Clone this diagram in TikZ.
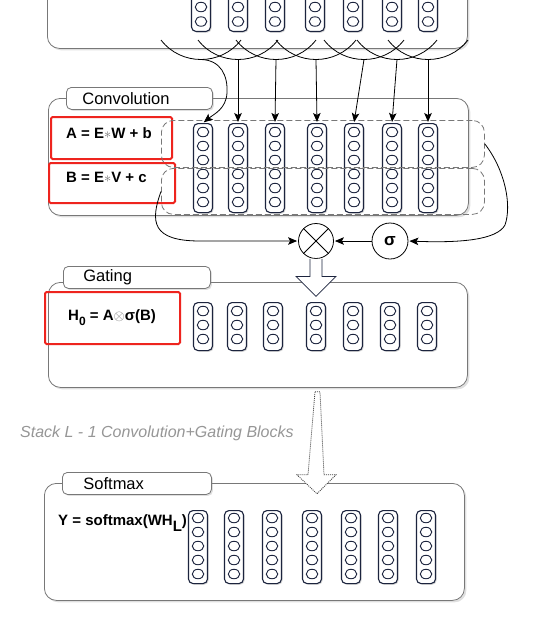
\documentclass[tikz,border=0pt]{standalone}
\usepackage{fontspec}
\setmainfont{Liberation Sans}
\usepackage{tikz}
\usetikzlibrary{arrows.meta, positioning, shadows, shapes.geometric, calc}

\definecolor{frame}{RGB}{120,120,120}
\definecolor{navy}{RGB}{28,36,62}
\definecolor{eqred}{RGB}{238,36,30}
\definecolor{note}{RGB}{150,150,150}

\begin{document}
\begin{tikzpicture}[
  x=1pt, y=-1pt,
  block/.style={draw=frame, fill=white, rounded corners=12pt, line width=0.8pt, anchor=north west,
    drop shadow={shadow xshift=2pt, shadow yshift=-2pt, opacity=0.25}},
  tab/.style={draw=frame, fill=white, rounded corners=5pt, line width=0.8pt, anchor=north west,
    minimum height=22pt, inner xsep=0pt, text width=#1, align=left,
    font=\fontsize{16.5}{18}\selectfont,
    drop shadow={shadow xshift=1.5pt, shadow yshift=-1.5pt, opacity=0.25}},
  eqbox/.style={draw=eqred, line width=2pt, rounded corners=1.5pt, anchor=north west},
  eq/.style={font=\bfseries\fontsize{15}{16}\selectfont, anchor=base west, inner sep=0pt},
  halfbox/.style={draw=frame, dash pattern=on 6pt off 3pt, rounded corners=12pt, line width=0.8pt, anchor=north west},
  col/.style={draw=navy, fill=white, rounded corners=4.5pt, line width=1.1pt, minimum width=19pt,
    drop shadow={shadow xshift=1.2pt, shadow yshift=-1.2pt, opacity=0.3}},
  unit/.style={draw=navy, ellipse, minimum width=11.5pt, minimum height=9.5pt, inner sep=0pt, line width=0.9pt},
  arrow/.style={-{Stealth[length=9pt, width=7.5pt, inset=2pt]}, line width=0.8pt, shorten >=1pt},
  op/.style={draw, circle, fill=white, line width=0.8pt}
]
\useasboundingbox (0,0) rectangle (546,630);
\clip (0,0) rectangle (546,630);

% embedding layer (cut at the top)
\node[block, minimum width=420pt, minimum height=88pt] (embed) at (47,-40) {};
\foreach \x [count=\i] in {201,238,275,315,353,392,428} {
  \node[col, minimum height=50pt, anchor=south] (in\i) at (\x,32) {};
  \foreach \k in {0,1,2}
    \node[unit] at (\x,-7.5+14.5*\k) {};
}
\foreach \b [count=\i] in {201,238,276,316,364,397,428} {
  \draw[line width=0.8pt] (\b-40,40) .. controls (\b-20,66) and (\b+20,66) .. (\b+40,40);
  \coordinate (k\i) at (\b,59.5);
}

% convolution
\node[block, minimum width=420pt, minimum height=117pt] (conv) at (48,98) {};
\node[tab=146pt] (convtab) at (66,87) {\hspace*{16pt}Convolution};
\node[eqbox, minimum width=121pt, minimum height=42pt] (redA) at (50,116) {};
\node[eqbox, minimum width=126pt, minimum height=40pt] (redB) at (48,162) {};
\node[eq] (eqA) at (66,138.5) {A = E{\mdseries\color{black!55}$\ast$}W + b};
\node[eq] (eqB) at (66,182) {B = E{\mdseries\color{black!55}$\ast$}V + c};
\foreach \x [count=\i] in {203,238,275,317,354,392,428} {
  \node[col, minimum height=89pt, anchor=north] (cv\i) at (\x,123) {};
  \foreach \k in {0,...,5}
    \node[unit] at (\x,132+14*\k) {};
}
\node[halfbox, minimum width=323pt, minimum height=47pt] (dA) at (161,120) {};
\node[halfbox, minimum width=323pt, minimum height=46pt] (dB) at (161,168) {};

\draw[arrow] (k1) .. controls (221,60) and (228,76) .. (227,93) .. controls (226,109) and (214,114) .. (cv1.north);
\foreach \i in {2,...,7}
  \draw[arrow] (k\i) -- (cv\i.north);

% gate
\node[op, minimum size=35pt] (mul) at (316,241) {};
\draw[line width=0.8pt] (mul.north west) -- (mul.south east) (mul.north east) -- (mul.south west);
\node[op, minimum size=36pt, font=\bfseries\fontsize{17}{17}\selectfont] (sig) at (390,241) {σ};
\draw[arrow] (sig) -- (mul);
\draw[arrow] (dA.east) .. controls (505,170) and (512,205) .. (505,225) .. controls (497,240) and (460,243) .. (sig.east);
\draw[arrow] (dB.west) .. controls (150,222) and (152,241) .. (200,241) -- (mul.west);

% gating
\node[block, minimum width=419pt, minimum height=105pt] (gate) at (48,282) {};
\node[tab=147pt, minimum height=21pt] (gatetab) at (63,266) {\hspace*{20pt}Gating};
\node[eqbox, minimum width=135pt, minimum height=52pt] (redH) at (44,291) {};
\node[eq] (eqH) at (68,320) {H\raisebox{-5pt}{\fontsize{12}{12}\selectfont 0} = A{\mdseries\color{black!55}$\otimes$}σ(B)};
\foreach \x [count=\i] in {203,237,273,316,353,390,427} {
  \node[col, minimum height=48pt, anchor=north] (gt\i) at (\x,302) {};
  \foreach \k in {0,1,2}
    \node[unit] at (\x,311+14*\k) {};
}
\draw[fill=white, draw=navy, line width=0.8pt] ($(mul.south)+(-6,0)$) -- ++(0,17.5) -- ++(-14,0) -- ++(20,20) -- ++(20,-20) -- ++(-14,0) -- ++(0,-17.5);

\node[anchor=base west, inner sep=0pt, text=note, font=\itshape\fontsize{16}{18}\selectfont] (stack) at (20,437) {Stack L - 1 Convolution+Gating Blocks};

% softmax
\node[block, minimum width=420pt, minimum height=117pt] (soft) at (44,483) {};
\node[tab=149pt] (softtab) at (62,472) {\hspace*{21pt}Softmax};
\node[eq] (eqY) at (58,525) {Y = softmax(WH\raisebox{-6pt}{L})};
\foreach \x [count=\i] in {198,234,272,312,351,388,426} {
  \node[col, minimum height=73pt, anchor=north] (sm\i) at (\x,510) {};
  \foreach \k in {0,...,4}
    \node[unit] at (\x,518+14*\k) {};
}
\draw[fill=white, draw=black!75, line width=0.8pt, dash pattern=on 1pt off 1pt]
  ($(gate.south -| gt4.south)+(-1,4)$) -- ++(-7,83) -- ++(-11,0) -- ++(20,19) -- ++(19,-19) -- ++(-12,0) -- ++(-4,-83) -- cycle;
\end{tikzpicture}
\end{document}
